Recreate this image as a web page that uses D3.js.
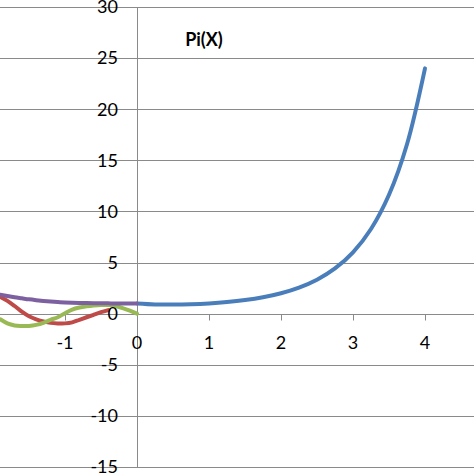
<!DOCTYPE html>
<html>
<head>
<meta charset="utf-8">
<script src="https://cdn.jsdelivr.net/npm/d3@7"></script>
<style>
  html, body { margin: 0; padding: 0; background: #fff; overflow: hidden; }
  #viz { width: 474px; height: 474px; }
  text { font-family: Lato, "Open Sans", sans-serif; fill: #000; }
</style>
</head>
<body>
<div id="viz"></div>
<script>
// Pi(X) chart data
const title = 'Pi(X)';

const xPos = [0, 0.25, 0.5, 0.75, 1, 1.25, 1.5, 1.75, 2, 2.25, 2.5, 2.75, 3, 3.25, 3.5, 3.75, 4];
const blueVals = [1, 0.906, 0.886, 0.919, 1, 1.133, 1.329, 1.608, 2, 2.549, 3.323, 4.423, 6, 8.285, 11.632, 16.578, 24];

const xNeg = [-1.9, -1.8, -1.7, -1.6, -1.5, -1.4, -1.3, -1.2, -1.1, -1.0,
              -0.9, -0.8, -0.7, -0.6, -0.5, -0.4, -0.3, -0.2, -0.1, 0];
const redVals = [1.65, 1.25, 0.75, 0.2, -0.25, -0.55, -0.75, -0.9, -0.95, -0.95,
                 -0.85, -0.6, -0.35, -0.1, 0.15, 0.35];
const greenVals = [-0.55, -0.95, -1.15, -1.2, -1.2, -1.1, -0.9, -0.6, -0.35, 0.05,
                   0.4, 0.6, 0.72, 0.8, 0.85, 0.85, 0.75, 0.55, 0.3, 0];
const purpleVals = [1.85, 1.72, 1.6, 1.5, 1.4, 1.32, 1.25, 1.19, 1.14, 1.1,
                    1.07, 1.05, 1.04, 1.03, 1.02, 1.01, 1.0, 1.0, 1.0, 1.0];

const xTicks = [-1, 0, 1, 2, 3, 4, 5];
const yTicks = [-15, -10, -5, 0, 5, 10, 15, 20, 25, 30];

(function () {
  const W = 474, H = 474;

  const svg = d3.select('#viz')
    .append('svg')
    .attr('width', W)
    .attr('height', H);

  const x = d3.scaleLinear().domain([0, 4]).range([137, 425]);
  const y = d3.scaleLinear().domain([-15, 30]).range([467, 7]);

  // horizontal gridlines
  svg.append('g')
    .selectAll('line')
    .data(yTicks)
    .enter()
    .append('line')
    .attr('x1', 0)
    .attr('x2', W)
    .attr('y1', (d) => Math.round(y(d)) + 0.5)
    .attr('y2', (d) => Math.round(y(d)) + 0.5)
    .attr('stroke', '#8a8a8a')
    .attr('stroke-width', 1);

  // vertical axis at x = 0
  svg.append('line')
    .attr('x1', Math.round(x(0)) + 0.5)
    .attr('x2', Math.round(x(0)) + 0.5)
    .attr('y1', y(30))
    .attr('y2', y(-15))
    .attr('stroke', '#8a8a8a');

  // x tick marks on the zero line
  const y0 = Math.round(y(0)) + 0.5;
  svg.append('g')
    .selectAll('line')
    .data(xTicks)
    .enter()
    .append('line')
    .attr('x1', (d) => Math.round(x(d)) + 0.5)
    .attr('x2', (d) => Math.round(x(d)) + 0.5)
    .attr('y1', y0)
    .attr('y2', y0 + 6)
    .attr('stroke', '#8a8a8a');

  // series
  const line = d3.line()
    .x((d) => x(d[0]))
    .y((d) => y(d[1]))
    .curve(d3.curveCatmullRom.alpha(0.5));

  const series = [
    { xs: xPos, vals: blueVals, color: '#4a7ebb' },
    { xs: xNeg, vals: redVals, color: '#be4b48' },
    { xs: xNeg, vals: greenVals, color: '#98b954' },
    { xs: xNeg, vals: purpleVals, color: '#7d60a0' }
  ];

  svg.append('g')
    .selectAll('path')
    .data(series)
    .enter()
    .append('path')
    .attr('d', (s) => line(s.vals.map((v, i) => [s.xs[i], v])))
    .attr('fill', 'none')
    .attr('stroke', (s) => s.color)
    .attr('stroke-width', 4)
    .attr('stroke-linecap', 'round')
    .attr('stroke-linejoin', 'round');

  // y labels
  svg.append('g')
    .selectAll('text')
    .data(yTicks)
    .enter()
    .append('text')
    .attr('x', 118)
    .attr('y', (d) => y(d))
    .attr('dy', '0.35em')
    .attr('text-anchor', 'end')
    .attr('font-size', 18)
    .text((d) => d);

  // x labels
  svg.append('g')
    .selectAll('text')
    .data(xTicks)
    .enter()
    .append('text')
    .attr('x', (d) => x(d))
    .attr('y', y(0) + 29)
    .attr('dy', '0.35em')
    .attr('text-anchor', 'middle')
    .attr('font-size', 18)
    .text((d) => d);

  svg.append('text')
    .attr('x', 204)
    .attr('y', 46)
    .attr('text-anchor', 'middle')
    .attr('font-size', 18)
    .attr('font-weight', 'bold')
    .text(title);
})();
</script>
</body>
</html>
